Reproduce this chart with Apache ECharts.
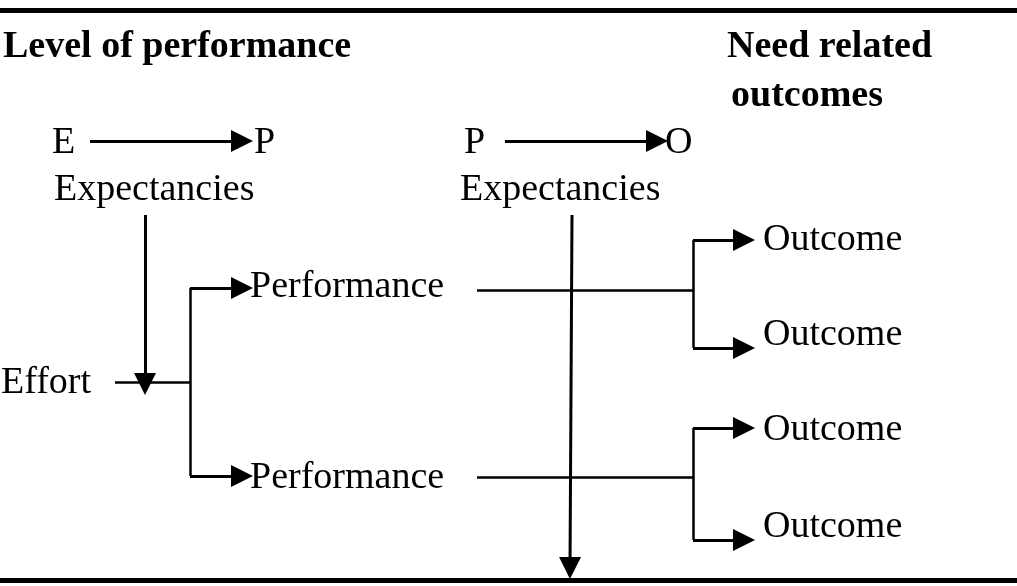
<!DOCTYPE html>
<html><head><meta charset="utf-8">
<script src="https://cdn.jsdelivr.net/npm/echarts@6/dist/echarts.min.js"></script>
<style>html,body{margin:0;padding:0;background:#fff}#c{width:1017px;height:586px}</style>
</head><body><div id="c"></div>
<script>
// labels: [text, x, y, bold]
const labels = [
  ["Level of performance", 3, 47, true],
  ["Need related", 727, 47, true],
  ["outcomes", 731, 96, true],
  ["E", 52, 143, false], ["P", 254, 143, false],
  ["Expectancies", 54, 190, false],
  ["P", 464, 143, false], ["O", 665, 143, false],
  ["Expectancies", 460, 190, false],
  ["Effort", 1, 383, false],
  ["Performance", 250, 287, false],
  ["Performance", 250, 478, false],
  ["Outcome", 763, 240, false], ["Outcome", 763, 335, false],
  ["Outcome", 763, 430, false], ["Outcome", 763, 527, false]
];
// arrows: [x1,y1,x2,y2]
const arrows = [
  [90,141,242,141], [505,141,657,141],
  [145,215,145,384], [572,215,570,568],
  [190,288,242,288], [190,476,242,476],
  [693,240,744,240], [693,348,744,348],
  [693,428,744,428], [693,540,744,540]
];
// plain connector lines
const plain = [
  [115,382,190,382], [190,288,190,476],
  [477,290,693,290], [477,477,693,477],
  [693,240,693,348], [693,428,693,540]
];
const rules = [[0,10,1017,10],[0,580,1017,580]];
const toSeg = a => ({coords: [[a[0],a[1]],[a[2],a[3]]]});
const chart = echarts.init(document.getElementById('c'));
chart.setOption({
  animation:false,
  grid:{left:0,right:0,top:0,bottom:0},
  xAxis:{type:'value',min:0,max:1017,show:false},
  yAxis:{type:'value',min:0,max:586,inverse:true,show:false},
  series:[
    {type:'lines',coordinateSystem:'cartesian2d',data:rules.map(toSeg),
     symbol:'none',lineStyle:{color:'#000',width:5,opacity:1}},
    {type:'lines',coordinateSystem:'cartesian2d',data:plain.map(toSeg),
     symbol:'none',lineStyle:{color:'#000',width:2.5,opacity:1}},
    {type:'lines',coordinateSystem:'cartesian2d',data:arrows.map(toSeg),
     symbol:['none','triangle'],symbolSize:[18,22],
     lineStyle:{color:'#000',width:3,opacity:1},itemStyle:{color:'#000'}},
    {type:'scatter',symbolSize:0,silent:true,itemStyle:{opacity:1},
     data:labels.map(l=>({value:[l[1],l[2]],name:l[0],
      label:{fontWeight:l[3]?'bold':'normal'}})),
     label:{show:true,position:'inside',align:'left',verticalAlign:'middle',
       formatter:p=>p.name,color:'#000',fontFamily:'Liberation Serif',fontSize:38}}
  ]
});
</script></body></html>
